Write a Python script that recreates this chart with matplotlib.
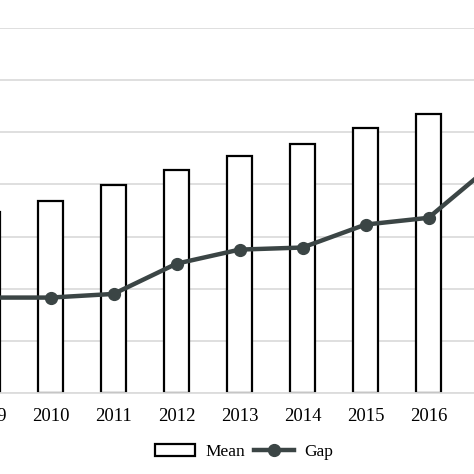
import numpy as np
import matplotlib.pyplot as plt

years = [2009, 2010, 2011, 2012, 2013, 2014, 2015, 2016, 2017]
mean_vals = [3.48, 3.69, 3.98, 4.27, 4.54, 4.77, 5.08, 5.35, 5.65]
gap_vals = [1.83, 1.83, 1.90, 2.48, 2.75, 2.79, 3.23, 3.36, 4.37]

line_col = '#3b4545'
grid_col = '#dcdcdc'

plt.rcParams['font.family'] = ['Liberation Serif', 'DejaVu Serif']

fig = plt.figure(figsize=(4.74, 4.74), dpi=100)
# axes runs past the figure edges, as in the cropped original
ax = fig.add_axes([-44 / 474, 81 / 474, 567 / 474, 365 / 474])

x = np.arange(len(years))
bars = ax.bar(x, mean_vals, width=0.41, facecolor='white', edgecolor='black',
              linewidth=1.6, label='Mean', zorder=2)
line, = ax.plot(x, gap_vals, color=line_col, linewidth=3.2, marker='o',
                markersize=8.5, label='Gap', zorder=3)

ax.set_xlim(-0.5, len(years) - 0.5)
ax.set_ylim(0, 7)
ax.set_yticks(np.arange(0, 8, 1))
ax.yaxis.grid(True, color=grid_col, linewidth=1.3, zorder=0)
ax.set_axisbelow(True)
ax.tick_params(axis='y', left=False, labelleft=False)
ax.tick_params(axis='x', bottom=False, labelsize=13.5, pad=7)
ax.set_xticks(x)
ax.set_xticklabels([str(y) for y in years])
for side in ['top', 'left', 'right']:
    ax.spines[side].set_visible(False)
ax.spines['bottom'].set_color(grid_col)
ax.spines['bottom'].set_linewidth(1.3)

fig.legend([bars, line], ['Mean', 'Gap'], loc='center',
           bbox_to_anchor=(244 / 474, 1 - 452 / 474), ncol=2,
           frameon=False, fontsize=12.5, handlelength=2.3, handleheight=0.65,
           columnspacing=0.5, handletextpad=0.6)

fig.savefig('out.png', dpi=100)
